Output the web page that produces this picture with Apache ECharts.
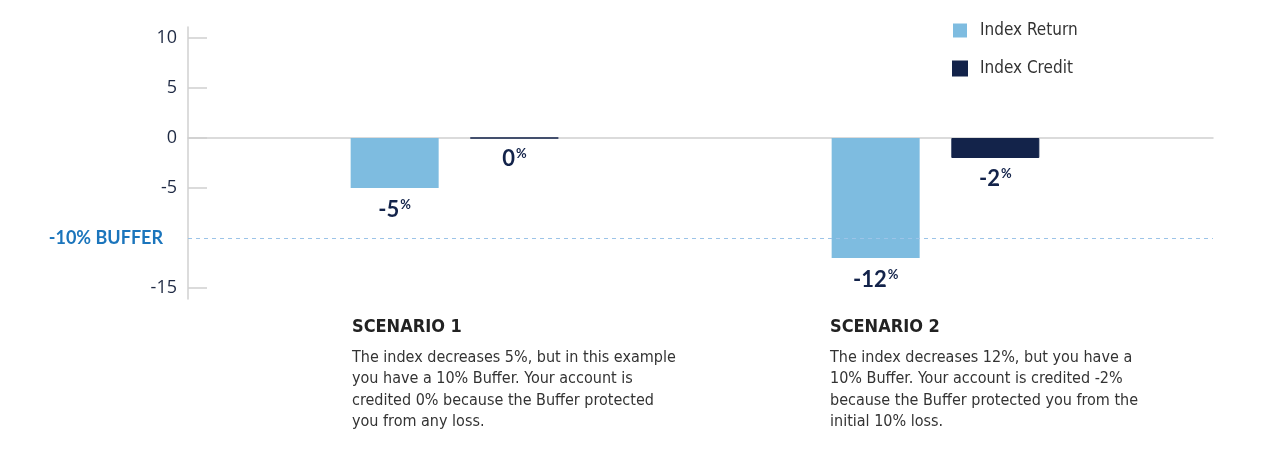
<!DOCTYPE html>
<html>
<head>
<meta charset="utf-8">
<script src="https://cdn.jsdelivr.net/npm/echarts@6/dist/echarts.min.js"></script>
<style>
  html, body { margin: 0; padding: 0; background: #fff; }
  #box { width: 1280px; height: 451px; }
</style>
</head>
<body>
<div id="box"></div>
<script>
// data
var scenarios = ["Scenario 1", "Scenario 2"];
var indexReturn = [-5, -12];
var indexCredit = [0, -2];
var yTicks = [-15, -5, 0, 5, 10];
var yLabels = [-15, -10, -5, 0, 5, 10];
var bufferLevel = -10;
var scenarioTitles = ["SCENARIO 1", "SCENARIO 2"];
var scenarioTexts = [
  ["The index decreases 5%, but in this example", "you have a 10% Buffer. Your account is", "credited 0% because the Buffer protected", "you from any loss."],
  ["The index decreases 12%, but you have a", "10% Buffer. Your account is credited -2%", "because the Buffer protected you from the", "initial 10% loss."]
];

var narrow = '"Liberation Sans Narrow", "DejaVu Sans Condensed", "Roboto Condensed", sans-serif';
var navy = "#13234a";

var myChart = echarts.init(document.getElementById("box"));

function barLabel(params) {
  return "{v|" + params.value + "}{p|%}";
}
var labelRich = {
  v: { fontFamily: "Lato", fontWeight: "bold", fontSize: 22, color: navy },
  p: { fontFamily: "Lato", fontWeight: "bold", fontSize: 13, color: navy, padding: [0, 0, 10, 1] }
};

var option = {
  animation: false,
  legend: {
    data: ["Index Return", "Index Credit"],
    orient: "vertical",
    left: 947,
    top: 17,
    itemWidth: 14,
    itemHeight: 14,
    itemGap: 21,
    icon: "rect",
    textStyle: { fontFamily: narrow, fontSize: 17, color: "#333", padding: [0, 0, 0, 8] }
  },
  grid: [
    { left: 188, right: 67, top: 27, bottom: 152 },
    { left: 214, right: 104, top: 27, bottom: 152 }
  ],
  xAxis: [
    {
      type: "category",
      gridIndex: 0,
      data: scenarios,
      axisLine: { show: true, onZero: true, lineStyle: { color: "#d0d0d0", width: 1.5 } },
      axisTick: { show: false },
      axisLabel: { show: false }
    },
    {
      type: "category",
      gridIndex: 1,
      data: scenarios,
      show: false
    }
  ],
  yAxis: [
    {
      type: "value",
      gridIndex: 0,
      min: -16.1,
      max: 11.1,
      splitLine: { show: false },
      axisLine: { show: true, lineStyle: { color: "#d0d0d0", width: 1.5 } },
      axisTick: { show: true, inside: true, length: 19, customValues: yTicks, lineStyle: { color: "#d0d0d0", width: 1.5 } },
      axisLabel: {
        customValues: yLabels,
        margin: 11,
        fontFamily: "Open Sans",
        fontSize: 18,
        color: "#1f2a44",
        formatter: function (v) {
          if (v === bufferLevel) return "{b|" + v + "% BUFFER}";
          return v;
        },
        rich: {
          b: { fontFamily: "Lato", fontWeight: "bold", fontSize: 18, color: "#1b75bc", padding: [0, 14, 0, 0] }
        }
      }
    },
    {
      type: "value",
      gridIndex: 1,
      min: -16.1,
      max: 11.1,
      show: false
    }
  ],
  series: [
    {
      type: "line",
      xAxisIndex: 0,
      yAxisIndex: 0,
      data: [],
      markLine: {
        silent: true,
        symbol: "none",
        label: { show: false },
        lineStyle: { color: "#9cc4e8", type: [4, 4], width: 1 },
        data: [{ yAxis: bufferLevel }]
      }
    },
    {
      name: "Index Return",
      type: "bar",
      xAxisIndex: 1,
      yAxisIndex: 1,
      barWidth: 88,
      barGap: "36%",
      data: indexReturn,
      itemStyle: { color: "#7ebce0" },
      label: { show: true, position: "outside", distance: 10, formatter: barLabel, rich: labelRich }
    },
    {
      name: "Index Credit",
      type: "bar",
      xAxisIndex: 1,
      yAxisIndex: 1,
      barWidth: 88,
      data: indexCredit,
      itemStyle: { color: navy, borderColor: navy, borderWidth: 1 },
      label: { show: true, position: "outside", distance: 9, formatter: barLabel, rich: labelRich }
    }
  ],
  graphic: [
    { type: "text", left: 352, top: 318, style: { text: scenarioTitles[0], font: "bold 18px " + narrow, fill: "#222" } },
    { type: "text", left: 352, top: 347, style: { text: scenarioTexts[0].join("\n"), font: "16px " + narrow, lineHeight: 21.5, fill: "#333" } },
    { type: "text", left: 830, top: 318, style: { text: scenarioTitles[1], font: "bold 18px " + narrow, fill: "#222" } },
    { type: "text", left: 830, top: 347, style: { text: scenarioTexts[1].join("\n"), font: "16px " + narrow, lineHeight: 21.5, fill: "#333" } }
  ]
};

myChart.setOption(option);
</script>
</body>
</html>
